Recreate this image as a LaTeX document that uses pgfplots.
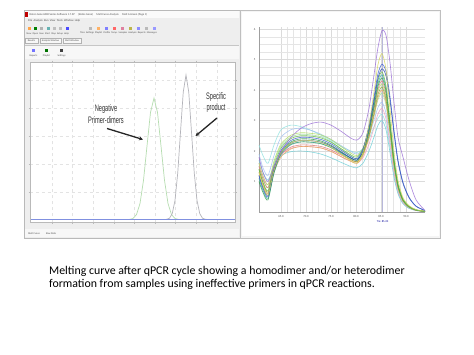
\documentclass[border=0pt]{standalone}
\usepackage{pgfplots}
\pgfplotsset{compat=1.18}
\usepackage{pgfplotstable}
\usepackage{graphicx}
\usepackage{fontspec}
\setmainfont{Carlito}
\newfontfamily\annfont{Liberation Sans}
\usetikzlibrary{arrows.meta}

\definecolor{col1}{HTML}{9B6FD6}
\definecolor{col2}{HTML}{D6D65A}
\definecolor{col3}{HTML}{3A5BD0}
\definecolor{col4}{HTML}{66BB44}
\definecolor{col5}{HTML}{33AAAA}
\definecolor{col6}{HTML}{E07878}
\definecolor{col7}{HTML}{E8A456}
\definecolor{col8}{HTML}{8FE2E0}
\definecolor{col9}{HTML}{A0C0F0}
\definecolor{col10}{HTML}{B0DD60}
\definecolor{col11}{HTML}{2F9A48}
\definecolor{col12}{HTML}{9EDE9E}
\definecolor{col13}{HTML}{2A4AA8}
\definecolor{col14}{HTML}{F0A0C0}
\definecolor{col15}{HTML}{6FD0D8}
\definecolor{col16}{HTML}{88AA33}
\definecolor{negcol}{HTML}{B6DDB0}
\definecolor{specol}{HTML}{B4B4BA}
\definecolor{tmcol}{HTML}{B8B8DA}
\definecolor{basecol}{HTML}{8090E0}

\pgfplotstableread{
T    c1   c2   c3   c4   c5   c6   c7   c8   c9   c10  c11  c12  c13  c14  c15  c16
60.6 1.80 1.30 1.20 1.40 1.10 1.50 1.30 2.20 1.90 1.60 1.00 1.50 1.20 1.60 1.70 1.40
61.4 1.30 0.85 0.78 0.98 0.71 1.08 0.88 1.85 1.45 1.18 0.64 1.08 0.81 1.18 1.30 0.95
62.4 1.00 0.55 0.50 0.70 0.45 0.80 0.60 1.60 1.20 0.90 0.40 0.80 0.55 0.90 1.05 0.65
63.6 1.50 1.36 1.38 1.51 1.28 1.43 1.30 2.20 1.85 1.67 1.30 1.59 1.36 1.46 1.50 1.39
65.0 2.00 1.95 2.02 2.10 1.89 1.89 1.81 2.70 2.45 2.23 1.96 2.17 1.95 1.88 1.85 1.94
67.0 2.45 2.26 2.35 2.41 2.21 2.13 2.07 2.85 2.70 2.52 2.30 2.46 2.26 2.09 1.98 2.22
69.0 2.75 2.35 2.45 2.50 2.30 2.20 2.15 2.80 2.75 2.60 2.40 2.55 2.35 2.15 2.00 2.30
71.0 2.90 2.34 2.44 2.49 2.29 2.19 2.14 2.68 2.68 2.58 2.39 2.53 2.34 2.14 1.97 2.29
73.0 2.95 2.28 2.38 2.43 2.24 2.15 2.10 2.52 2.55 2.53 2.33 2.47 2.29 2.10 1.90 2.24
75.0 2.85 2.13 2.24 2.29 2.12 2.04 1.99 2.35 2.38 2.38 2.19 2.31 2.16 1.99 1.78 2.11
77.0 2.65 1.90 2.03 2.08 1.94 1.87 1.82 2.15 2.18 2.15 1.98 2.07 1.96 1.82 1.63 1.91
79.0 2.42 1.68 1.82 1.87 1.76 1.71 1.66 2.00 1.98 1.93 1.77 1.83 1.77 1.66 1.49 1.72
80.2 2.36 1.60 1.75 1.80 1.70 1.65 1.60 1.95 1.90 1.85 1.70 1.75 1.70 1.60 1.45 1.65
81.4 2.60 1.96 2.06 2.08 1.98 1.92 1.84 2.08 2.07 2.09 1.97 1.97 2.00 1.78 1.60 1.90
82.6 3.40 2.86 2.84 2.78 2.68 2.58 2.44 2.40 2.50 2.67 2.65 2.50 2.75 2.23 2.00 2.51
83.6 4.50 3.94 3.77 3.62 3.52 3.37 3.16 2.80 3.01 3.38 3.46 3.15 3.65 2.77 2.46 3.24
84.4 5.40 4.84 4.54 4.32 4.22 4.04 3.76 3.08 3.43 3.97 4.13 3.69 4.40 3.22 2.85 3.86
85.2 5.95 5.20 4.85 4.60 4.50 4.30 4.00 3.20 3.60 4.20 4.40 3.90 4.70 3.40 3.00 4.10
86.0 5.80 4.68 4.61 4.14 4.05 3.87 3.60 2.88 3.24 3.78 3.96 3.51 4.47 3.06 2.70 3.69
86.8 4.90 3.38 3.78 2.99 2.93 2.80 2.60 2.08 2.34 2.73 2.86 2.54 3.67 2.21 1.95 2.67
87.6 3.60 1.98 2.67 1.75 1.71 1.63 1.52 1.22 1.37 1.60 1.67 1.48 2.59 1.29 1.14 1.56
88.4 2.45 1.04 1.70 0.92 0.90 0.86 0.80 0.64 0.72 0.84 0.88 0.78 1.65 0.68 0.60 0.82
89.4 1.80 0.47 0.97 0.41 0.41 0.39 0.36 0.29 0.32 0.38 0.40 0.35 0.94 0.31 0.27 0.37
90.6 1.05 0.21 0.49 0.18 0.18 0.17 0.16 0.13 0.14 0.17 0.18 0.16 0.47 0.14 0.12 0.16
92.0 0.40 0.08 0.19 0.07 0.07 0.06 0.06 0.05 0.05 0.06 0.07 0.06 0.19 0.05 0.05 0.06
93.8 0.05 0.03 0.05 0.02 0.02 0.02 0.02 0.02 0.02 0.02 0.02 0.02 0.05 0.02 0.02 0.02
}\meltdata

\pgfplotstableread{
x y
31 0.4
126 0.4
129.5 0.6
133 1.5
136.5 5.4
140 16.5
143.5 39.7
147 74.0
150.5 107.6
154 122.0
157.5 107.6
161 74.0
164.5 39.7
168 16.5
171.5 5.4
175 1.5
178.5 0.6
182 0.4
}\negdata

\pgfplotstableread{
x y
160 0.4
164 0.5
166.75 0.7
169.5 1.8
172.25 6.4
175 19.6
177.75 47.1
180.5 88.0
183.25 127.9
186 145.0
188.75 127.9
191.5 88.0
194.25 47.1
197 19.6
199.75 6.4
202.5 1.8
205.25 0.7
210 0.5
235 0.4
}\specdata

\begin{document}
\begin{tikzpicture}
\path[use as bounding box, fill=white] (0,0) rectangle (474bp,-355bp);
\begin{scope}[x=1bp,y=-1bp]
  % ---------- left screenshot frame ----------
  \fill[gray!13] (24,10) rectangle (240,238);
  \draw[gray!55, line width=0.4pt] (24,10) rectangle (240,238);
  \fill[gray!4] (25,11) rectangle (239,17.5);
  \fill[red!75!black] (25,11.8) rectangle (28,16.5);
  \node[anchor=west, inner sep=0, text=gray!60!black, font=\fontsize{2.8}{3}\selectfont] at (29.5,14.3)
    {Rotor-Gene 6000 Series Software 1.7.87 \quad (Rotor-Gene) \quad Melt Curve Analysis \quad Melt A.Green (Page 1)};
  \node[anchor=west, inner sep=0, text=gray!60!black, font=\fontsize{2.8}{3}\selectfont] at (28,21)
    {File\enspace Analysis\enspace Run\enspace View\enspace Tools\enspace Window\enspace Help};
  % toolbar icons
  \foreach \xx/\cc in {28/orange!70,34/green!50!black,40/gray!60,47/teal!60,53/gray!50,59/gray!50,66/blue!70,89/gray!55,97/orange!60,105/blue!50,113/red!60,121/purple!50,129/olive!60,137/blue!45,145/gray!55,153/blue!40}{
    \fill[\cc] (\xx,26.5) rectangle ++(3.2,3.6);
  }
  \node[anchor=west, inner sep=0, text=gray!60!black, font=\fontsize{2.5}{3}\selectfont] at (26.5,34)
    {New\enspace Open\enspace Save\enspace Start\enspace Stop\enspace Setup\enspace Help};
  \node[anchor=west, inner sep=0, text=gray!60!black, font=\fontsize{2.5}{3}\selectfont] at (80,33)
    {Tiles\enspace Settings\enspace Playlist\enspace Profile\enspace Temp.\enspace Samples\enspace Analysis\enspace Reports\enspace Messages};
  % tabs
  \draw[gray!60, line width=0.3pt, fill=gray!6] (25,38.5) rectangle (38,43.5);
  \draw[gray!60, line width=0.3pt, fill=gray!6] (40,38.5) rectangle (61,43.5);
  \draw[gray!60, line width=0.3pt, fill=gray!6] (63,38.5) rectangle (81,43.5);
  \node[inner sep=0, text=gray!60!black, font=\fontsize{2.5}{3}\selectfont] at (31.5,41) {Results};
  \node[inner sep=0, text=gray!60!black, font=\fontsize{2.5}{3}\selectfont] at (50.5,41) {Analysis Window};
  \node[inner sep=0, text=gray!60!black, font=\fontsize{2.5}{3}\selectfont] at (72,41) {Melt Window};
  \draw[gray!45, line width=0.6pt] (25,45.5) -- (239,45.5);
  \fill[gray!6] (25,46.3) rectangle (239,59);
  \fill[blue!55] (32,48.5) rectangle ++(3,3.8);
  \fill[green!45!black] (45,48.5) rectangle ++(3,3.8);
  \fill[black!75] (60,48.5) rectangle ++(3,3.8);
  \node[inner sep=0, text=gray!60!black, font=\fontsize{2.5}{3}\selectfont] at (33.5,55.5) {Reports};
  \node[inner sep=0, text=gray!60!black, font=\fontsize{2.5}{3}\selectfont] at (46.5,55.5) {Playlist};
  \node[inner sep=0, text=gray!60!black, font=\fontsize{2.5}{3}\selectfont] at (61.5,55.5) {Settings};
  \fill[gray!6] (25,229) rectangle (239,237);
  \node[inner sep=0, text=gray!60!black, font=\fontsize{2.6}{3}\selectfont] at (34,234) {Melt Curve};
  \node[inner sep=0, text=gray!60!black, font=\fontsize{2.6}{3}\selectfont] at (51,234) {Raw Data};
  % ---------- right screenshot frame ----------
  \fill[gray!8] (240,10) rectangle (440,238);
  \fill[white] (241.5,11.5) rectangle (438.5,235.5);
  \draw[gray!50, line width=0.4pt] (240,10) rectangle (440,238);
\end{scope}

% ---------- left plot ----------
\begin{axis}[
  at={(30bp,-222bp)}, anchor=south west, scale only axis,
  width=205bp, height=160bp,
  xmin=30, xmax=235, ymin=-2, ymax=158,
  axis background/.style={fill=white},
  axis line style={gray!55, line width=0.35pt},
  xtick={52,72.6,93.2,113.8,134.4,155,175.6,196.2,216.8},
  ytick={28,56,84,112,140},
  xticklabels={}, yticklabels={},
  tick style={gray!55, line width=0.3pt}, tick align=outside,
  major tick length=1.5bp,
  grid=major, grid style={dashed, gray!22, line width=0.35pt},
]
\addplot[no marks, negcol, line width=0.7pt] table[x=x,y=y]{\negdata};
\addplot[no marks, specol, line width=0.7pt] table[x=x,y=y]{\specdata};
\addplot[no marks, basecol, line width=0.45pt] coordinates {(31,0.9) (235,0.9)};
\end{axis}

% ---------- right plot ----------
\begin{axis}[
  at={(259bp,-212bp)}, anchor=south west, scale only axis,
  width=166bp, height=185bp,
  xmin=60.6, xmax=93.8, ymin=0, ymax=6.07,
  axis x line*=bottom, axis y line*=left,
  axis line style={gray!75, line width=0.5pt},
  xtick={65,70,75,80,85,90}, ytick={1,2,3,4,5,6},
  minor x tick num=3, minor y tick num=3,
  grid=both, grid style={gray!20, line width=0.3pt},
  major grid style={gray!28, line width=0.3pt},
  tick style={draw=none},
  /pgf/number format/assume math mode=true,
  xticklabel style={font=\fontsize{3}{3.5}\selectfont, text=gray!70!black, /pgf/number format/.cd, fixed, fixed zerofill, precision=1},
  yticklabel style={font=\fontsize{3}{3.5}\selectfont, text=gray!70!black},
  enlargelimits=false, clip=false,
]
\addplot[no marks, color=tmcol, line width=0.5pt] coordinates {(85.2,0) (85.2,6.07)};
\pgfplotsinvokeforeach{8,9,15,14,12,10,6,7,16,5,11,4,13,3,2,1}{
  \addplot[no marks, smooth, tension=0.45, color=col#1, line width=0.65pt, opacity=0.8] table[x=T, y=c#1]{\meltdata};
}
\end{axis}

\begin{scope}[x=1bp,y=-1bp]
  \node[inner sep=0, text=blue!60!black, font=\fontsize{2.8}{3}\selectfont] at (382.5,222) {Tm: 85.20};
  % annotations
  \node[inner sep=0, text=black!80, font=\annfont\fontsize{9.5}{10}\selectfont] at (106,109) {\scalebox{0.6}[1]{Negative}};
  \node[inner sep=0, text=black!80, font=\annfont\fontsize{9.5}{10}\selectfont] at (106,120.5) {\scalebox{0.6}[1]{Primer-dimers}};
  \node[inner sep=0, text=black!80, font=\annfont\fontsize{9.5}{10}\selectfont] at (216,96.7) {\scalebox{0.6}[1]{Specific}};
  \node[inner sep=0, text=black!80, font=\annfont\fontsize{9.5}{10}\selectfont] at (216,108.3) {\scalebox{0.6}[1]{product}};
  \draw[-{Stealth[length=4pt,width=4pt]}, line width=1.3pt, black!85] (107,128.5) -- (143,139.5);
  \draw[-{Stealth[length=4pt,width=4pt]}, line width=1.3pt, black!85] (217,118) -- (195.5,136);
  % caption
  \node[anchor=west, inner sep=0, font=\fontsize{11.9}{13}\selectfont] at (49,271.5)
    {Melting curve after qPCR cycle showing a homodimer and/or heterodimer};
  \node[anchor=west, inner sep=0, font=\fontsize{11.9}{13}\selectfont] at (49,284.5)
    {formation from samples using ineffective primers in qPCR reactions.};
\end{scope}
\end{tikzpicture}
\end{document}
